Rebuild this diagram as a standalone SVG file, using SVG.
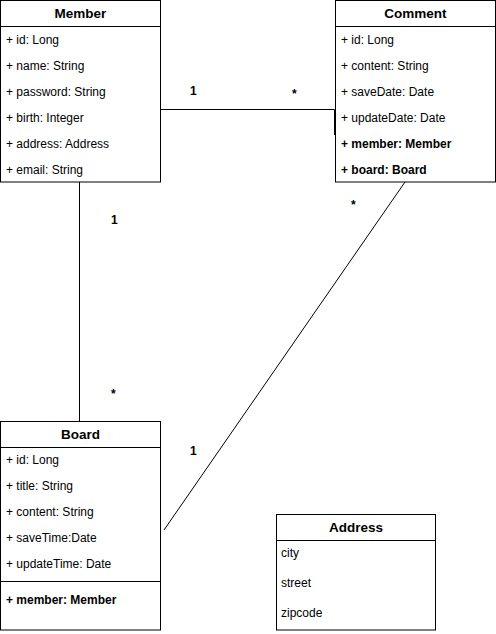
<svg xmlns="http://www.w3.org/2000/svg" width="496" height="634" viewBox="0 0 496 634">
<style>
.box{fill:#fff;stroke:#000;stroke-width:1}
.ln{stroke:#000;stroke-width:1;fill:none}
.t{font-family:"Liberation Sans",Arial,sans-serif;font-size:12px;fill:#000}
.b{font-weight:bold}
.h{font-family:"Liberation Sans",Arial,sans-serif;font-size:13.5px;font-weight:bold;text-anchor:middle;fill:#000}
</style>
<rect width="496" height="634" fill="#fff"/>
<g id="connectors">
<path class="ln" d="M161,109.5 H334.5 V135"/>
<path class="ln" d="M79.5,182 V421"/>
<path class="ln" d="M405,182 L164,530"/>
<text class="t b" x="190" y="95">1</text>
<text class="t b" x="292" y="98">*</text>
<text class="t b" x="111" y="224">1</text>
<text class="t b" x="111" y="398">*</text>
<text class="t b" x="351" y="209">*</text>
<text class="t b" x="190" y="455">1</text>
</g>
<g id="member">
<rect class="box" x="0.5" y="0.5" width="160" height="181.5"/>
<line class="ln" x1="0.5" y1="26.5" x2="160.5" y2="26.5"/>
<text class="h" x="80.5" y="18">Member</text>
<text class="t" x="6" y="44">+ id: Long</text>
<text class="t" x="6" y="70">+ name: String</text>
<text class="t" x="6" y="96">+ password: String</text>
<text class="t" x="6" y="122">+ birth: Integer</text>
<text class="t" x="6" y="148">+ address: Address</text>
<text class="t" x="6" y="174">+ email: String</text>
</g>
<g id="comment">
<rect class="box" x="335.5" y="0.5" width="160" height="181.5"/>
<line class="ln" x1="335.5" y1="26.5" x2="495.5" y2="26.5"/>
<text class="h" x="415.5" y="18">Comment</text>
<text class="t" x="341" y="44">+ id: Long</text>
<text class="t" x="341" y="70">+ content: String</text>
<text class="t" x="341" y="96">+ saveDate: Date</text>
<text class="t" x="341" y="122">+ updateDate: Date</text>
<text class="t b" x="341" y="148">+ member: Member</text>
<text class="t b" x="341" y="174">+ board: Board</text>
</g>
<g id="board">
<rect class="box" x="0.5" y="421.5" width="160" height="208.5"/>
<line class="ln" x1="0.5" y1="447.5" x2="160.5" y2="447.5"/>
<line class="ln" x1="0.5" y1="581.5" x2="160.5" y2="581.5"/>
<text class="h" x="80.5" y="439">Board</text>
<text class="t" x="6" y="464">+ id: Long</text>
<text class="t" x="6" y="490">+ title: String</text>
<text class="t" x="6" y="516">+ content: String</text>
<text class="t" x="6" y="542">+ saveTime:Date</text>
<text class="t" x="6" y="568">+ updateTime: Date</text>
<text class="t b" x="6" y="604">+ member: Member</text>
</g>
<g id="address">
<rect class="box" x="276.5" y="514.5" width="159" height="115.5"/>
<line class="ln" x1="276.5" y1="540.5" x2="435.5" y2="540.5"/>
<text class="h" x="356" y="532">Address</text>
<text class="t" x="281" y="557">city</text>
<text class="t" x="281" y="587">street</text>
<text class="t" x="281" y="617">zipcode</text>
</g>
</svg>
